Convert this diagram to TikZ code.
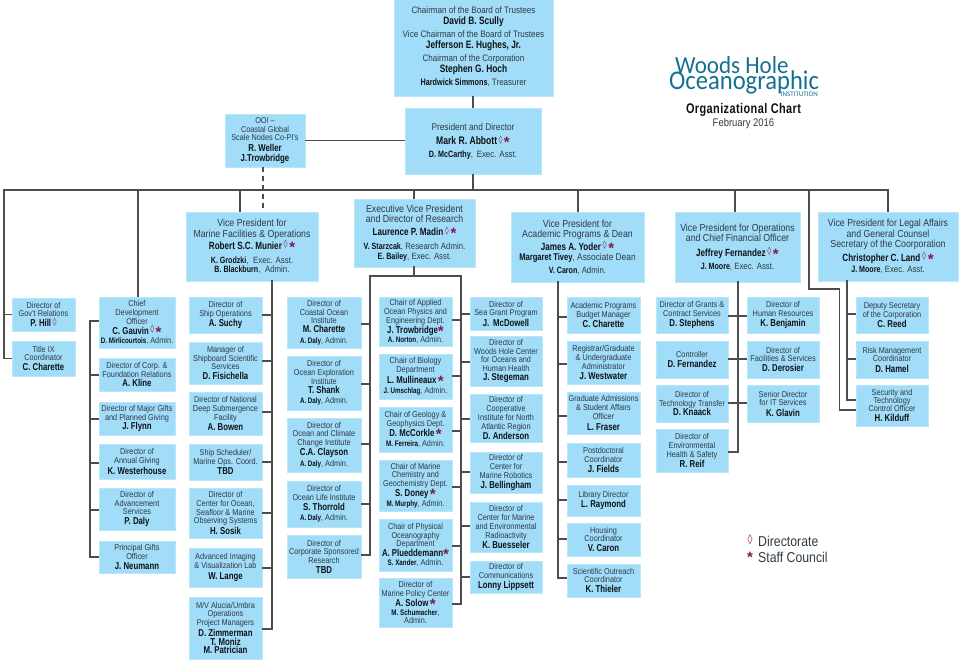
\documentclass[tikz,border=0pt]{standalone}
\usepackage{fontspec}
\setmainfont{Liberation Sans}[FakeStretch=0.86,BoldFeatures={FakeStretch=0.78}]
\newfontfamily\logofonta{Carlito}[FakeStretch=0.94]
\newfontfamily\logofontb{Carlito}[FakeStretch=0.91]
\newfontfamily\logofontc{Carlito}
\newfontfamily\symfont{DejaVu Sans}
\newfontfamily\astfont{Liberation Sans}
\newfontfamily\ttlfont{Liberation Sans}[FakeStretch=0.78,LetterSpace=3]
\definecolor{boxfill}{HTML}{A1DCF8}
\definecolor{boxedge}{HTML}{B8E6FB}
\definecolor{txt}{HTML}{2E3A44}
\definecolor{ink}{HTML}{0E1216}
\definecolor{maroon}{HTML}{7F1B45}
\definecolor{wire}{HTML}{4D4D4D}
\definecolor{logoblue}{HTML}{14708F}
\setlength{\normallineskiplimit}{-100pt}
\setlength{\lineskiplimit}{-100pt}
\newcommand{\fs}[2]{\fontsize{#1}{#2}\selectfont}
\newcommand{\nm}[1]{{\fs{10}{10}\bfseries\color{ink}#1}}
\newcommand{\nmv}[1]{{\fs{10.4}{10}\bfseries\color{ink}#1}}
\newcommand{\nmt}[1]{{\fs{10.7}{10}\bfseries\color{ink}#1}}
\newcommand{\bn}[1]{{\fs{8}{8}\bfseries\color{ink}#1}}
\newcommand{\vb}[1]{{\bfseries\color{ink}#1}}
\newcommand{\sml}[1]{{\fs{9.1}{9}#1}}
\newcommand{\chr}[1]{{\fs{9.4}{9}#1}}
\newcommand{\bnine}[1]{{\fs{10}{9}\bfseries\color{ink}#1}}
\newcommand{\mydia}{\smash{\raisebox{2.5pt}{\textcolor{maroon}{\symfont\fs{8}{8}\bfseries ◊}}}}
\newcommand{\myast}{\smash{\raisebox{-3pt}{\textcolor{maroon}{\astfont\fs{15}{15}\bfseries *}}}}
\tikzset{
 x=1pt,y=1pt,
 box/.style={fill=boxfill,draw=boxedge,line width=.7pt,inner sep=0pt,align=center,text=txt,font=\fs{8.5}{8.7}},
 big/.style={box,font=\fs{10.2}{10.3}},
 ln/.style={draw=wire,line width=1.1pt,line cap=rect},
 thk/.style={draw=wire,line width=1.4pt,line cap=rect},
}
\newcommand{\bx}[7][box]{%
 \pgfmathsetmacro\bw{#5-#3}\pgfmathsetmacro\bh{#6-#4}%
 \pgfmathsetmacro\cxx{(#3+#5)/2}\pgfmathsetmacro\cyy{-(#4+#6)/2}%
 \node[#1,minimum width=\bw pt,minimum height=\bh pt] (#2) at (\cxx,\cyy) {#7};}
\newcommand{\stub}[3]{\draw[ln] ([yshift=#3pt]#1) -- ([yshift=#3pt]#1 -| #2);}
\begin{document}
\begin{tikzpicture}
\useasboundingbox (0,0) rectangle (960,-659);
% named bus points
\coordinate (busL) at (4,-190);
\coordinate (busR) at (888,-190);
\coordinate (trunk) at (473,-190);
\coordinate (bChief) at (138,-190);
\coordinate (bMar) at (240,-190);
\coordinate (bEvp) at (414,-190);
\coordinate (bAca) at (578,-190);
\coordinate (bOps) at (735,-190);
\coordinate (bSec) at (809,-190);
\coordinate (dashtop) at (263,-167);
\coordinate (knee) at (839.5,-289);
\coordinate (sChief) at (90,-321);
\coordinate (sMar) at (272,-281);
\coordinate (bracL) at (370,-276);
\coordinate (bracR) at (461,-276);
\coordinate (sEvp) at (414,-267);
\coordinate (sAca) at (558,-282);
\coordinate (sOps) at (738,-282);
\coordinate (sLeg) at (847,-281);

\bx[box]{chair}{394}{-2}{553}{96}{\chr{Chairman of the Board of Trustees}\\[1.8pt]\nmt{David B. Scully}\\[4.3pt]\chr{Vice Chairman of the Board of Trustees}\\[2.3pt]\nmt{Jefferson E. Hughes, Jr.}\\[4.8pt]\chr{Chairman of the Corporation}\\[1.8pt]\nmt{Stephen G. Hoch}\\[4.8pt]{\fs{9.3}{9}\vb{Hardwick Simmons}, Treasurer}}
\bx[box]{pres}{405}{108}{541}{174}{{\fs{9.7}{9.3}President and Director}\\[5.8pt]{\fs{11}{10}\bfseries\color{ink}Mark R. Abbott}\,\mydia\,\myast\\[3.8pt]{\fs{9.2}{9}\vb{D. McCarthy}, \,Exec. Asst.}}
\bx[box]{ooi}{225}{114}{305}{167}{OOI --\\Coastal Global\\Scale Nodes Co-PI's\\[2.3pt]\bnine{R. Weller}\\[.8pt]\bnine{J.Trowbridge}}
\bx[big]{vpm}{186}{212}{318}{281}{Vice President for\\Marine Facilities \& Operations\\[1.7pt]\nmv{Robert S.C. Munier}\,\mydia\,\myast\\[4.2pt]\sml{\vb{K. Grodzki}, \;Exec. Asst.}\\[-1.3pt]\sml{\vb{B. Blackburn}, \;Admin.}}
\bx[big]{evp}{354}{199}{475}{267}{Executive Vice President\\and Director of Research\\[2.7pt]\nmv{Laurence P. Madin}\,\mydia\,\myast\\[3.7pt]\sml{\vb{V. Starzcak}, Research Admin.}\\[-1.1pt]\sml{\vb{E. Bailey}, Exec. Asst.}}
\bx[big]{vpa}{511}{212}{644}{282}{Vice President for\\Academic Programs \& Dean\\[2.2pt]\nmv{James A. Yoder}\,\mydia\,\myast\\[-.3pt]{\fs{9.7}{9}\vb{Margaret Tivey}, Associate Dean}\\[2.7pt]\sml{\vb{V. Caron}, Admin.}}
\bx[big]{vpo}{675}{212}{800}{282}{Vice President for Operations\\and Chief Financial Officer\\[4.2pt]\nmv{Jeffrey Fernandez}\,\mydia\,\myast\\[2.7pt]\sml{\vb{J. Moore}, Exec. Asst.}}
\bx[big]{vpl}{818}{212}{958}{281}{Vice President for Legal Affairs\\and General Counsel\\Secretary of the Coorporation\\[3.4pt]\nmv{Christopher C. Land}\,\mydia\,\myast\\[.7pt]\sml{\vb{J. Moore}, Exec. Asst.}}

\bx{gov}{12}{298}{75}{331}{Director of\\Gov't Relations\\[1.3pt]\nm{P. Hill}\,\mydia}
\bx{title}{12}{341}{75}{376}{Title IX\\[-.5pt]Coordinator\\[1.3pt]\nm{C. Charette}}

\bx{chief}{99}{297}{175}{348}{Chief\\Development\\Officer\\[1.3pt]\nm{C. Gauvin}\,\mydia\,\myast\\\bn{D. Mirlicourtois}, Admin.}
\bx{corp}{99}{358}{175}{391}{Director of Corp. \&\\Foundation Relations\\[.4pt]\nm{A. Kline}}
\bx{gifts}{99}{402}{175}{435}{Director of Major Gifts\\and Planned Giving\\[1pt]\nm{J. Flynn}}
\bx{annual}{99}{444}{175}{479}{Director of\\Annual Giving\\[2pt]\nm{K. Westerhouse}}
\bx{adv}{99}{488}{175}{530}{Director of\\Advancement\\Services\\[1pt]\nm{P. Daly}}
\bx{princ}{99}{541}{175}{573}{Principal Gifts\\Officer\\[1pt]\nm{J. Neumann}}

\bx{shipops}{189}{297}{262}{333}{Director of\\Ship Operations\\[1.3pt]\nm{A. Suchy}}
\bx{sss}{189}{342}{262}{384}{Manager of\\Shipboard Scientific\\Services\\[1pt]\nm{D. Fisichella}}
\bx{ndsf}{189}{392}{262}{435}{Director of National\\Deep Submergence\\Facility\\[1pt]\nm{A. Bowen}}
\bx{sched}{189}{444}{262}{480}{Ship Scheduler/\\Marine Ops. Coord.\\[1pt]\nm{TBD}}
\bx{ooc}{189}{488}{262}{538}{Director of\\Center for Ocean,\\Seafloor \& Marine\\Observing Systems\\[1.6pt]\nm{H. Sosik}}
\bx{aivl}{189}{548}{262}{587}{Advanced Imaging\\\& Visualization Lab\\[2.3pt]\nm{W. Lange}}
\bx{mv}{189}{597}{262}{659}{M/V Alucia/Umbra\\Operations\\Project Managers\\[2pt]\nm{D. Zimmerman}\\\nm{T. Moniz}\\\nm{M. Patrician}}

\bx{coast}{287}{297}{361}{348}{Director of\\Coastal Ocean\\Institute\\[.3pt]\nm{M. Charette}\\[1.6pt]\bn{A. Daly}, Admin.}
\bx{expl}{287}{356}{361}{410}{Director of\\Ocean Exploration\\Institute\\[.3pt]\nm{T. Shank}\\[1.6pt]\bn{A. Daly}, Admin.}
\bx{climate}{287}{418}{361}{472}{Director of\\Ocean and Climate\\Change Institute\\[1.6pt]\nm{C.A. Clayson}\\[2pt]\bn{A. Daly}, Admin.}
\bx{life}{287}{481}{361}{527}{Director of\\Ocean Life Institute\\[1pt]\nm{S. Thorrold}\\[2pt]\bn{A. Daly}, Admin.}
\bx{csr}{287}{535}{361}{578}{Director of\\Corporate Sponsored\\Research\\[1pt]\nm{TBD}}

\bx{aope}{379}{297}{452}{346}{Chair of Applied\\Ocean Physics and\\Engineering Dept.\\[1.3pt]\nm{J. Trowbridge}\myast\\[.6pt]\bn{A. Norton}, Admin.}
\bx{bio}{379}{354}{452}{399}{Chair of Biology\\Department\\[2.3pt]\nm{L. Mullineaux}\,\myast\\[2pt]\bn{J. Umschlag}, Admin.}
\bx{geo}{379}{407}{452}{452}{Chair of Geology \&\\Geophysics Dept.\\[1.3pt]\nm{D. McCorkle}\,\myast\\[2pt]\bn{M. Ferreira}, Admin.}
\bx{mcg}{379}{460}{452}{511}{Chair of Marine\\Chemistry and\\Geochemistry Dept.\\[1.6pt]\nm{S. Doney}\,\myast\\[1pt]\bn{M. Murphy}, Admin.}
\bx{pho}{379}{519}{452}{571}{Chair of Physical\\Oceanography\\Department\\[1.3pt]\nm{A. Plueddemann}\myast\\[.3pt]\bn{S. Xander}, Admin.}
\bx{mpc}{379}{578}{452}{627}{Director of\\Marine Policy Center\\[1.3pt]\nm{A. Solow}\,\myast\\[.6pt]\bn{M. Schumacher},\\[-.7pt]Admin.}

\bx{sea}{470}{297}{542}{330}{Director of\\Sea Grant Program\\[1.6pt]\nm{J. \,McDowell}}
\bx{whc}{470}{336}{542}{386}{Director of\\Woods Hole Center\\for Oceans and\\Human Health\\[.6pt]\nm{J. Stegeman}}
\bx{cinar}{470}{394}{542}{442}{Director of\\Cooperative\\Institute for North\\Atlantic Region\\[1.3pt]\nm{D. Anderson}}
\bx{robo}{470}{452}{542}{493}{Director of\\Center for\\Marine Robotics\\[1pt]\nm{J. Bellingham}}
\bx{cmer}{470}{502}{542}{552}{Director of\\Center for Marine\\and Environmental\\Radioactivity\\[1.3pt]\nm{K. Buesseler}}
\bx{comms}{470}{561}{542}{593}{Director of\\Communications\\[1pt]\nm{Lonny Lippsett}}

\bx{budget}{567}{297}{640}{333}{Academic Programs\\Budget Manager\\[1.6pt]\nm{C. Charette}}
\bx{regis}{567}{341}{640}{384}{Registrar/Graduate\\\& Undergraduate\\Administrator\\[1.3pt]\nm{J. Westwater}}
\bx{gradadm}{567}{392}{640}{434}{Graduate Admissions\\\& Student Affairs\\Officer\\[2pt]\nm{L. Fraser}}
\bx{postdoc}{567}{443}{640}{477}{Postdoctoral\\Coordinator\\[1.6pt]\nm{J. Fields}}
\bx{lib}{567}{485}{640}{516}{Library Director\\[.6pt]\nm{L. Raymond}}
\bx{hous}{567}{523}{640}{556}{Housing\\Coordinator\\[1.3pt]\nm{V. Caron}}
\bx{sci}{567}{564}{640}{597}{Scientific Outreach\\Coordinator\\[1.3pt]\nm{K. Thieler}}

\bx{grants}{656}{297}{728}{333}{Director of Grants \&\\Contract Services\\[1pt]\nm{D. Stephens}}
\bx{ctrl}{656}{341}{728}{378}{Controller\\[1.3pt]\nm{D. Fernandez}}
\bx{tech}{656}{385}{728}{422}{Director of\\Technology Transfer\\[1pt]\nm{D. Knaack}}
\bx{ehs}{656}{429}{728}{472}{Director of\\Environmental\\Health \& Safety\\[1.3pt]\nm{R. Reif}}
\bx{hr}{747}{297}{819}{333}{Director of\\Human Resources\\[1.6pt]\nm{K. Benjamin}}
\bx{fac}{747}{341}{819}{378}{Director of\\Facilities \& Services\\[1.3pt]\nm{D. Derosier}}
\bx{its}{747}{385}{819}{422}{Senior Director\\for IT Services\\[1.6pt]\nm{K. Glavin}}

\bx{dep}{856}{297}{928}{333}{Deputy Secretary\\of the Corporation\\[1.6pt]\nm{C. Reed}}
\bx{risk}{856}{341}{928}{378}{Risk Management\\Coordinator\\[1.6pt]\nm{D. Hamel}}
\bx{sec}{856}{385}{928}{426}{Security and\\[-.7pt]Technology\\[-.7pt]Control Officer\\[1.6pt]\nm{H. Kilduff}}

% connectors
\draw[ln] (busL) -- (busR);
\draw[thk] (chair.south -| trunk) -- (pres.north -| trunk);
\draw[thk] (pres.south -| trunk) -- (trunk);
\draw[ln] (ooi.east) -- (ooi.east -| pres.west);
\draw[ln,dash pattern=on 5pt off 4pt,line cap=butt] (dashtop) -- (dashtop |- vpm.north);
\draw[ln] (busL) |- (title.west);
\draw[ln] (gov.west) -- (gov.west -| busL);
\draw[ln] (bChief) -- (bChief |- chief.north);
\draw[thk] (bMar) -- (bMar |- vpm.north);
\draw[thk] (bEvp) -- (bEvp |- evp.north);
\draw[thk] (bAca) -- (bAca |- vpa.north);
\draw[ln] (bOps) -- (bOps |- vpo.north);
\draw[ln] (busR) -- (busR |- vpl.north);
% development bracket
\draw[ln] (sChief) -- (sChief |- princ.west);
\stub{chief.west}{sChief}{1.5}
\stub{corp.west}{sChief}{-.5}
\stub{gifts.west}{sChief}{-.5}
\stub{annual.west}{sChief}{-1.5}
\stub{adv.west}{sChief}{-1}
\stub{princ.west}{sChief}{0}
% marine spine
\draw[ln] (sMar) -- ([yshift=-1pt]sMar |- mv.east);
\stub{shipops.east}{sMar}{0}
\stub{sss.east}{sMar}{2}
\stub{ndsf.east}{sMar}{1.5}
\stub{sched.east}{sMar}{0}
\stub{ooc.east}{sMar}{0}
\stub{aivl.east}{sMar}{-.5}
\stub{mv.east}{sMar}{-1}
% EVP bracket
\draw[ln] (sEvp) -- (sEvp |- bracL);
\draw[ln] ([yshift=1.5pt]bracL |- csr.east) |- (bracR) -- ([yshift=-1.5pt]bracR |- mpc.west);
\stub{coast.east}{bracL}{-1.5}
\stub{expl.east}{bracL}{-1}
\stub{climate.east}{bracL}{1}
\stub{life.east}{bracL}{0}
\stub{csr.east}{bracL}{1.5}
\stub{aope.east}{bracR}{1.5}
\stub{bio.east}{bracR}{.5}
\stub{geo.east}{bracR}{-1.5}
\stub{mcg.east}{bracR}{-1.5}
\stub{pho.east}{bracR}{-1}
\stub{mpc.east}{bracR}{-1.5}
\stub{sea.west}{bracR}{-.5}
\stub{whc.west}{bracR}{-1}
\stub{cinar.west}{bracR}{-1}
\stub{robo.west}{bracR}{.5}
\stub{cmer.west}{bracR}{1}
\stub{comms.west}{bracR}{0}
% academic spine
\draw[ln] (sAca) -- ([yshift=2.5pt]sAca |- sci.west);
\stub{budget.west}{sAca}{-2}
\stub{regis.west}{sAca}{-1.5}
\stub{gradadm.west}{sAca}{-3}
\stub{postdoc.west}{sAca}{-2}
\stub{lib.west}{sAca}{.5}
\stub{hous.west}{sAca}{.5}
\stub{sci.west}{sAca}{2.5}
% operations spine
\draw[ln] (sOps) -- ([yshift=-1.5pt]sOps |- ehs.east);
\draw[ln] ([yshift=-1pt]grants.east) -- ([yshift=-1pt]grants.east -| hr.west);
\draw[thk] ([yshift=.5pt]ctrl.east) -- ([yshift=.5pt]ctrl.east -| fac.west);
\draw[ln] ([yshift=.5pt]tech.east) -- ([yshift=.5pt]tech.east -| its.west);
\stub{ehs.east}{sOps}{-1.5}
% legal spine
\draw[ln] (sLeg) -- ([yshift=5.5pt]sLeg |- sec.west);
\stub{dep.west}{sLeg}{1}
\stub{risk.west}{sLeg}{.5}
\stub{sec.west}{sLeg}{5.5}
\draw[thk] (bSec) |- (knee) |- ([yshift=-4.5pt]sec.west);

% logo and titles
\node[inner sep=0pt,anchor=base west,text=logoblue] (logoa) at (675,-73) {\logofonta\fs{24.5}{24}Woods Hole};
\node[inner sep=0pt,anchor=base west,text=logoblue] (logob) at (669,-89.3) {\logofontb\fs{27}{27}Oceanographic};
\node[inner sep=0pt,anchor=base east,text=logoblue] (logoc) at (818,-96.5) {\logofontc\fs{7}{7}INSTITUTION};
\node[inner sep=0pt,text=ink,font=\ttlfont\fs{14}{14}\bfseries] (ttl) at (743.5,-110) {Organizational Chart};
\node[inner sep=0pt,text=txt,font=\fs{11}{11}] (dat) at (743.5,-124) {February 2016};
% legend
\node[inner sep=0pt,anchor=west,text=txt,font=\fs{14.3}{14}] (lga) at (758,-541) {Directorate};
\node[inner sep=0pt,anchor=west,text=txt,font=\fs{14.3}{14}] (lgb) at (758,-557) {Staff Council};
\node[inner sep=0pt,text=maroon,font=\symfont\fs{10}{10}\bfseries] (lgc) at (750,-539.5) {◊};
\node[inner sep=0pt,text=maroon,font=\astfont\fs{15}{15}\bfseries] (lgd) at (750,-557.5) {*};
\end{tikzpicture}
\end{document}
